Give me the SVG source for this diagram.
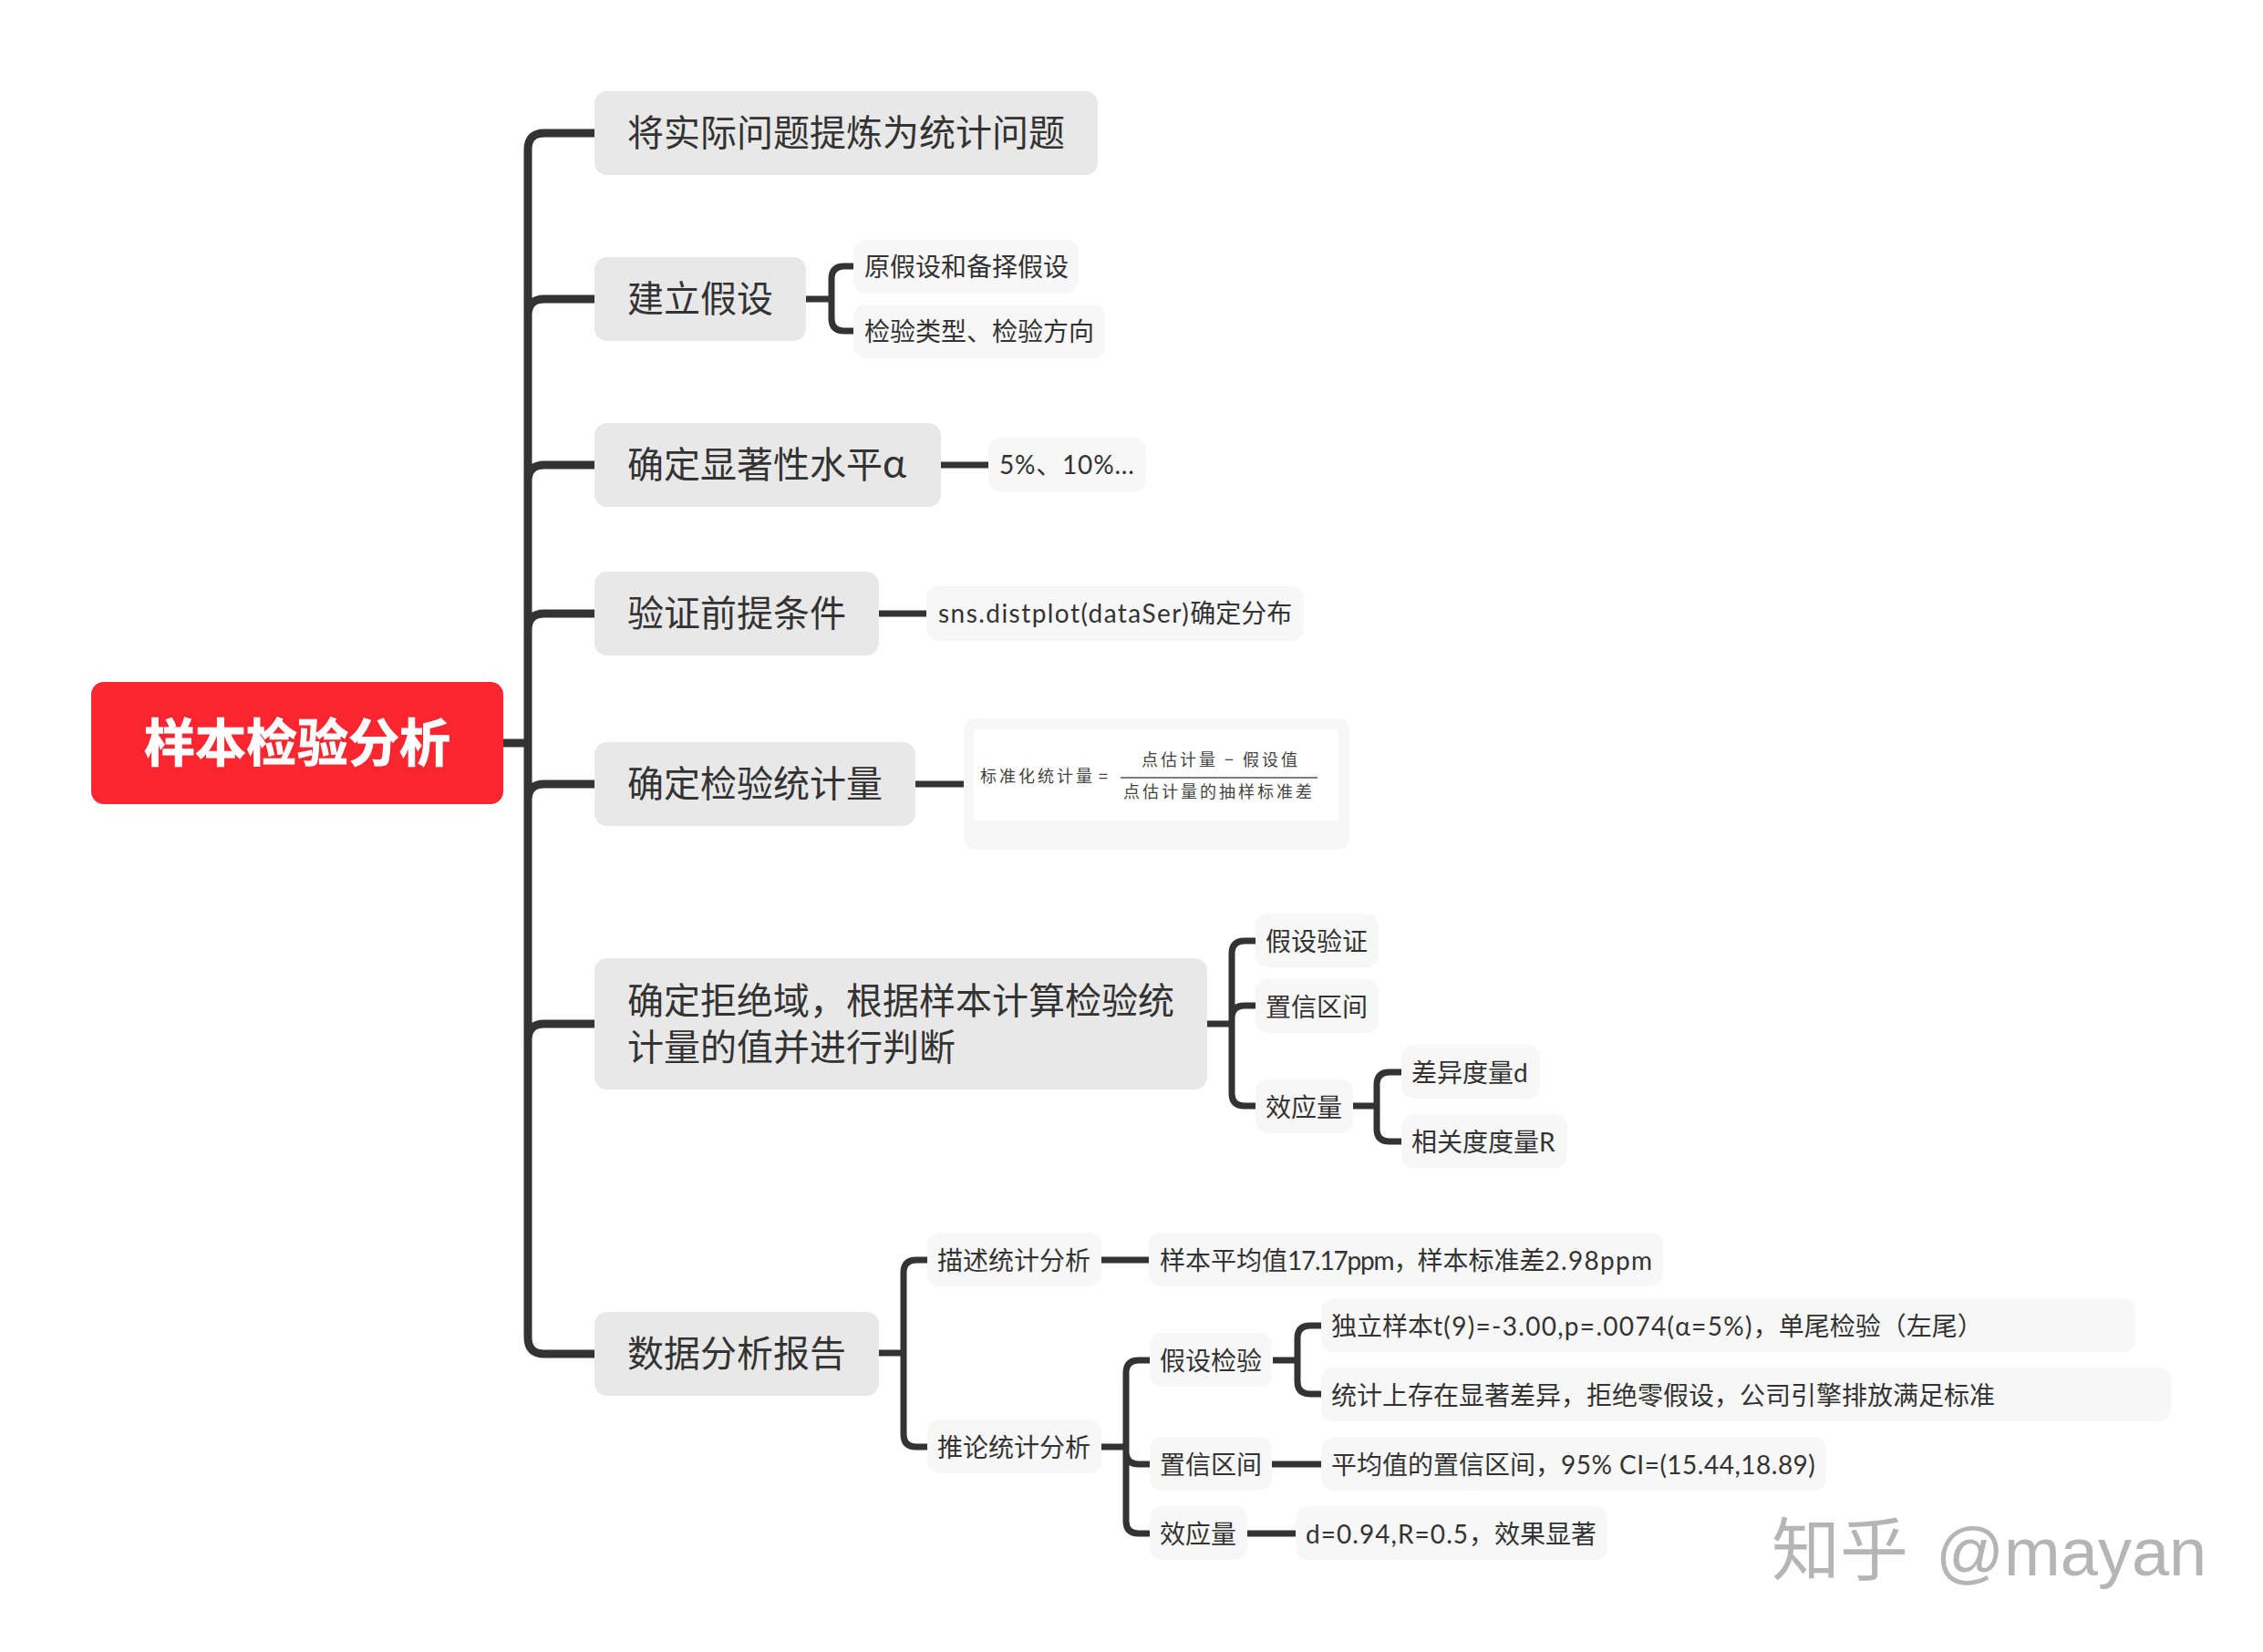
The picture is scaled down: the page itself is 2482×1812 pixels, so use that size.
<svg xmlns="http://www.w3.org/2000/svg" width="2482" height="1812" viewBox="0 0 2482 1812">
<style>
text{font-family:"Lato","Noto Sans CJK SC",sans-serif;fill:#333}
.l1 rect{fill:#e8e8e8}
.l2 rect{fill:#f7f7f7}
.l1 text{font-size:40px}
.l2 text{font-size:28px}
#connectors path{fill:none;stroke:#333;stroke-width:7}
#connectors .main{stroke-width:9}
.f text{font-family:"Noto Sans CJK SC",sans-serif;font-size:18px;letter-spacing:3px;fill:#444}
.wm{font-family:"Noto Sans CJK SC",sans-serif;font-size:75px;fill:#b5b5b5}
.wl{font-family:"Liberation Sans",sans-serif;font-size:74px;fill:#b5b5b5}
</style>
<rect width="2482" height="1812" fill="#fff"/>
<g id="connectors">
<path class="main" d="M552 815H579M579 164Q579 146 597 146H652M579 346Q579 328 597 328H652M579 528Q579 510 597 510H652M579 691Q579 673 597 673H652M579 878Q579 860 597 860H652M579 1141Q579 1123 597 1123H652M579 164V1467Q579 1485 597 1485H652"/>
<path d="M884 328H912M912 306Q912 292 926 292H936M912 349Q912 363 926 363H936M912 306V349"/>
<path d="M1032 510H1084M964 673H1016M1004 860H1057"/>
<path d="M1324 1123H1351M1351 1046Q1351 1032 1365 1032H1377M1351 1117Q1351 1103 1365 1103H1377M1351 1046V1199Q1351 1213 1365 1213H1377"/>
<path d="M1484 1213H1510M1510 1190Q1510 1176 1524 1176H1537M1510 1190V1238Q1510 1252 1524 1252H1537"/>
<path d="M964 1484H991M991 1396Q991 1382 1005 1382H1017M991 1396V1573Q991 1587 1005 1587H1017"/>
<path d="M1208 1382H1260"/>
<path d="M1208 1587H1235M1235 1506Q1235 1492 1249 1492H1261M1235 1506V1668Q1235 1682 1249 1682H1261M1235 1592Q1235 1606 1249 1606H1261"/>
<path d="M1396 1492H1423M1423 1468Q1423 1454 1437 1454H1449M1423 1468V1515Q1423 1529 1437 1529H1449"/>
<path d="M1395 1606H1449M1368 1682H1421"/>
</g>
<g id="root"><rect x="100" y="748" width="452" height="134" rx="14" fill="#f9252f"/><text x="158" y="835" style="font-size:56px;font-weight:700;fill:#fff;stroke:#fff;stroke-width:1">样本检验分析</text></g>
<g id="n1" class="l1"><rect x="652" y="100" width="552" height="92" rx="14"/><text x="688" y="160">将实际问题提炼为统计问题</text></g>
<g id="n2" class="l1"><rect x="652" y="282" width="232" height="92" rx="14"/><text x="688" y="342">建立假设</text></g>
<g id="n3" class="l1"><rect x="652" y="464" width="380" height="92" rx="14"/><text x="688" y="524">确定显著性水平<tspan style="font-size:44px">α</tspan></text></g>
<g id="n4" class="l1"><rect x="652" y="627" width="312" height="92" rx="14"/><text x="688" y="687">验证前提条件</text></g>
<g id="n5" class="l1"><rect x="652" y="814" width="352" height="92" rx="14"/><text x="688" y="874">确定检验统计量</text></g>
<g id="n6" class="l1"><rect x="652" y="1051" width="672" height="144" rx="14"/><text x="688" y="1112">确定拒绝域，根据样本计算检验统</text><text x="688" y="1163">计量的值并进行判断</text></g>
<g id="n7" class="l1"><rect x="652" y="1439" width="312" height="92" rx="14"/><text x="688" y="1499">数据分析报告</text></g>
<g id="n2a" class="l2"><rect x="936" y="263" width="247" height="59" rx="14"/><text x="948" y="303">原假设和备择假设</text></g>
<g id="n2b" class="l2"><rect x="936" y="334" width="276" height="59" rx="14"/><text x="948" y="374">检验类型、检验方向</text></g>
<g id="n3a" class="l2"><rect x="1084" y="480" width="173" height="60" rx="14"/><text x="1096" y="520" style="letter-spacing:.8px">5%、10%...</text></g>
<g id="n4a" class="l2"><rect x="1016" y="643" width="414" height="60" rx="14"/><text x="1029" y="683"><tspan style="letter-spacing:1.45px">sns.distplot(dataSer)</tspan>确定分布</text></g>
<g id="n5a" class="l2 f"><rect x="1057" y="788" width="423" height="144" rx="14"/><rect x="1068" y="800" width="400" height="100" style="fill:#fff"/><text x="1075" y="857.500">标准化统计量</text><text x="1205" y="857.500">=</text><text x="1252" y="839.500">点估计量 − 假设值</text><path d="M1229 853H1445" stroke="#555" stroke-width="1.500"/><text x="1232" y="874.500">点估计量的抽样标准差</text></g>
<g id="n6a" class="l2"><rect x="1377" y="1002" width="135" height="59" rx="14"/><text x="1388" y="1043">假设验证</text></g>
<g id="n6b" class="l2"><rect x="1377" y="1074" width="135" height="59" rx="14"/><text x="1388" y="1115">置信区间</text></g>
<g id="n6c" class="l2"><rect x="1377" y="1184" width="107" height="59" rx="14"/><text x="1388" y="1225">效应量</text></g>
<g id="n6c1" class="l2"><rect x="1537" y="1146" width="152" height="59" rx="14"/><text x="1548" y="1187">差异度量d</text></g>
<g id="n6c2" class="l2"><rect x="1537" y="1222" width="182" height="59" rx="14"/><text x="1548" y="1263">相关度度量R</text></g>
<g id="n7a" class="l2"><rect x="1017" y="1352" width="191" height="59" rx="14"/><text x="1028" y="1393">描述统计分析</text></g>
<g id="n7a1" class="l2"><rect x="1260" y="1352" width="564" height="59" rx="14"/><text x="1272" y="1393">样本平均值<tspan style="letter-spacing:-1.2px">17.17ppm</tspan>，<tspan x="1554.500">样本标准差</tspan><tspan style="letter-spacing:1.3px">2.98ppm</tspan></text></g>
<g id="n7b" class="l2"><rect x="1017" y="1557" width="191" height="59" rx="14"/><text x="1028" y="1598">推论统计分析</text></g>
<g id="n7b1" class="l2"><rect x="1261" y="1462" width="134" height="59" rx="14"/><text x="1272" y="1503">假设检验</text></g>
<g id="n7b1a" class="l2"><rect x="1449" y="1424" width="893" height="59" rx="14"/><text x="1460" y="1465">独立样本<tspan style="letter-spacing:1.3px">t(9)=-3.00,p=.0074(α=5%)</tspan>，单尾检验（左尾）</text></g>
<g id="n7b1b" class="l2"><rect x="1449" y="1500" width="932" height="59" rx="14"/><text x="1460" y="1541">统计上存在显著差异，拒绝零假设，公司引擎排放满足标准</text></g>
<g id="n7b2" class="l2"><rect x="1261" y="1576" width="134" height="59" rx="14"/><text x="1272" y="1617">置信区间</text></g>
<g id="n7b2a" class="l2"><rect x="1449" y="1576" width="554" height="59" rx="14"/><text x="1460" y="1617">平均值的置信区间，<tspan style="letter-spacing:.5px">95% CI=(15.44,18.89)</tspan></text></g>
<g id="n7b3" class="l2"><rect x="1261" y="1652" width="107" height="59" rx="14"/><text x="1272" y="1693">效应量</text></g>
<g id="n7b3a" class="l2"><rect x="1421" y="1652" width="342" height="59" rx="14"/><text x="1432" y="1693"><tspan style="letter-spacing:1.05px">d=0.94,R=0.5</tspan>，效果显著</text></g>
<g id="watermark"><text class="wm" x="1943" y="1727">知乎</text><text class="wl" x="2123" y="1728">@mayan</text></g>
</svg>
